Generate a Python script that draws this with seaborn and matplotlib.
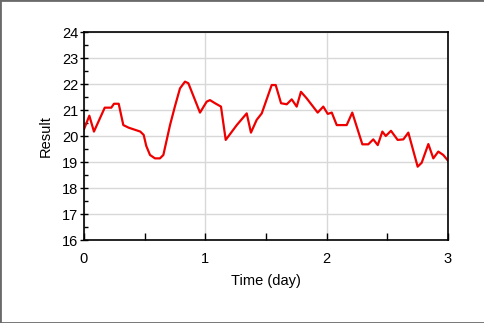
import matplotlib
matplotlib.use("Agg")
import matplotlib.pyplot as plt
from matplotlib.ticker import MultipleLocator
from matplotlib.patches import Rectangle
import seaborn as sns
import pandas as pd

time_day = [0.0, 0.044, 0.082, 0.171, 0.225, 0.247, 0.286, 0.324, 0.368, 0.464,
            0.492, 0.513, 0.544, 0.585, 0.626, 0.654, 0.709, 0.75, 0.791, 0.832,
            0.860, 0.956, 1.011, 1.038, 1.080, 1.129, 1.168, 1.259, 1.341, 1.376,
            1.423, 1.465, 1.547, 1.580, 1.624, 1.671, 1.712, 1.753, 1.788, 1.835,
            1.926, 1.972, 2.009, 2.042, 2.083, 2.165, 2.211, 2.294, 2.343, 2.384,
            2.421, 2.459, 2.487, 2.53, 2.585, 2.632, 2.673, 2.750, 2.783, 2.838,
            2.879, 2.920, 2.961, 3.0]
result = [20.26, 20.78, 20.17, 21.09, 21.09, 21.24, 21.24, 20.42, 20.32, 20.17,
          20.04, 19.62, 19.27, 19.14, 19.14, 19.27, 20.42, 21.15, 21.83, 22.09,
          22.03, 20.9, 21.32, 21.38, 21.26, 21.13, 19.85, 20.42, 20.87, 20.13,
          20.62, 20.87, 21.96, 21.96, 21.26, 21.22, 21.41, 21.13, 21.7, 21.45,
          20.9, 21.13, 20.85, 20.9, 20.42, 20.42, 20.9, 19.68, 19.68, 19.87,
          19.65, 20.17, 20.0, 20.2, 19.85, 19.87, 20.13, 18.82, 18.97, 19.69,
          19.14, 19.4, 19.27, 19.05]

x_label = "Time (day)"
y_label = "Result"

df = pd.DataFrame({"t": time_day, "r": result})

sns.set_theme(style="white")
plt.rcParams["font.family"] = ["Liberation Sans", "DejaVu Sans"]

fig = plt.figure(figsize=(4.85, 3.23), dpi=100)
ax = fig.add_axes([84/485, 1-240/323, 364/485, 208/323])

sns.lineplot(data=df, x="t", y="r", ax=ax, color="#ee0000", linewidth=1.6)

ax.set_xlim(0, 3)
ax.set_ylim(16, 24)
ax.xaxis.set_major_locator(MultipleLocator(1))
ax.xaxis.set_minor_locator(MultipleLocator(0.5))
ax.yaxis.set_major_locator(MultipleLocator(1))
ax.yaxis.set_minor_locator(MultipleLocator(0.5))

ax.grid(True, which="major", color="#d8d8d8", linewidth=1.0)
ax.set_axisbelow(True)

ax.tick_params(axis="y", which="major", direction="inout", length=6, width=1,
               color="black", labelsize=10.5, pad=1, labelcolor="black", left=True)
ax.tick_params(axis="y", which="minor", direction="in", length=3, width=1,
               color="black", left=True)
ax.tick_params(axis="x", which="both", direction="in", length=5, width=1,
               color="black", labelsize=10.5, pad=8.5, labelcolor="black", bottom=True)

for s in ax.spines.values():
    s.set_color("black")
    s.set_linewidth(1.2)
    s.set_visible(True)

ax.set_xlabel(x_label, fontsize=10.5, color="black", labelpad=6)
ax.set_ylabel(y_label, fontsize=10.5, color="black", labelpad=7)

fig.patches.append(Rectangle((0, 0), 1, 1, transform=fig.transFigure,
                             fill=False, edgecolor="#6a6a6a", linewidth=2.0))

fig.savefig("out.png", dpi=100, facecolor="white")
